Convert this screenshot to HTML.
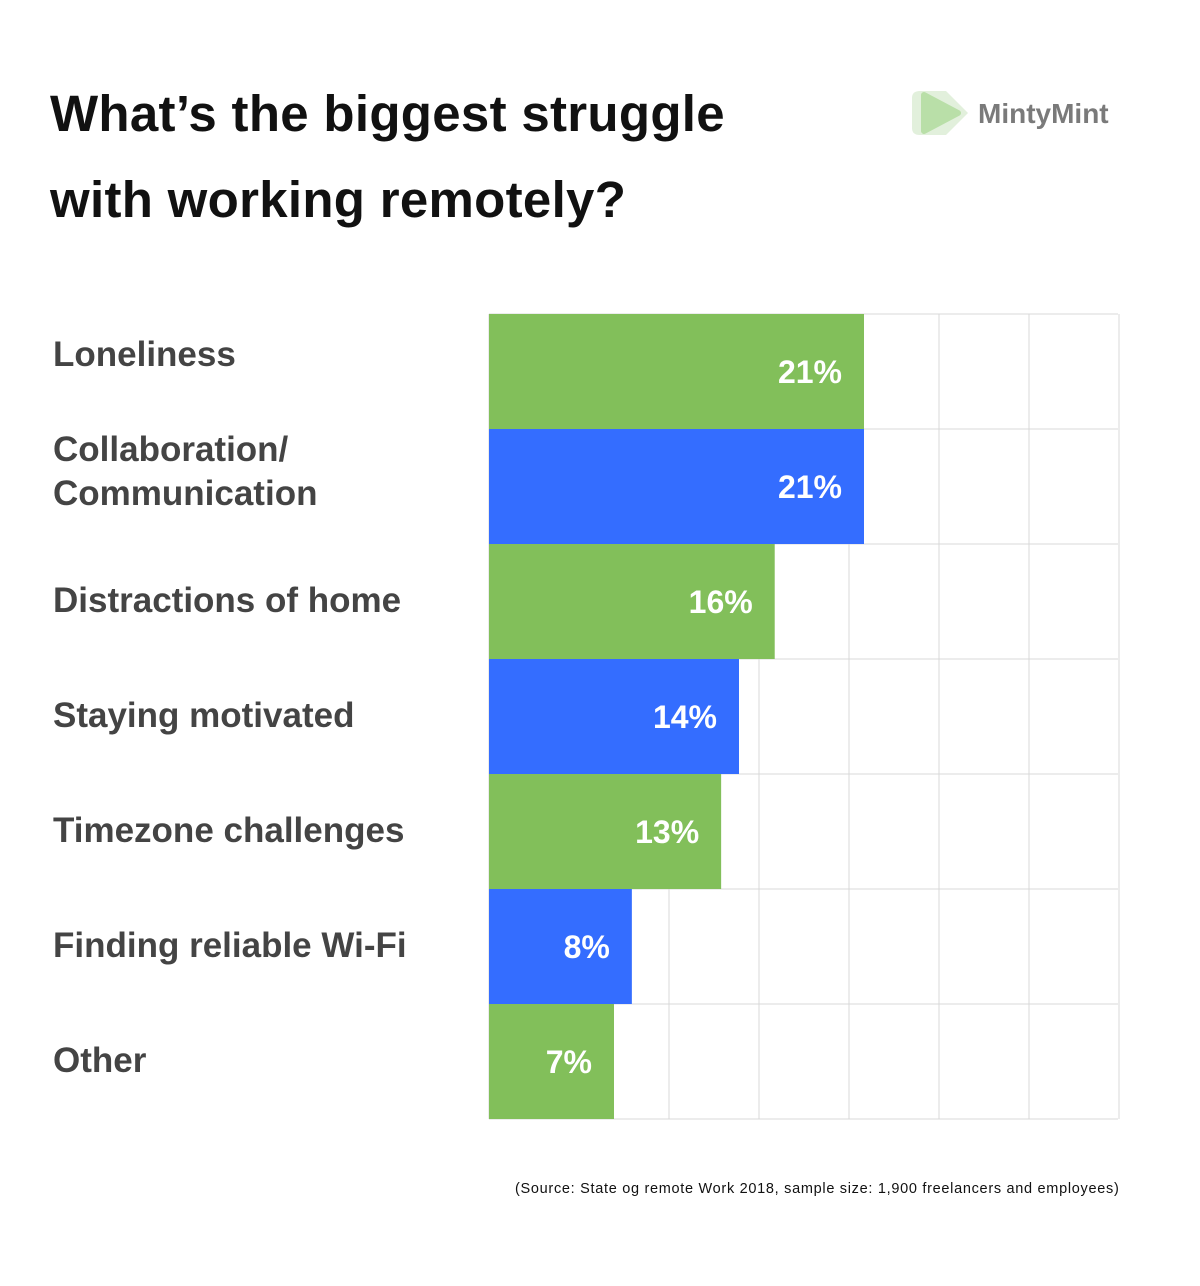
<!DOCTYPE html>
<html><head><meta charset="utf-8"><style>
body{margin:0;background:#fff;width:1200px;height:1286px;overflow:hidden;font-family:"Liberation Sans",sans-serif}
#title{position:absolute;left:50px;top:71px;font-size:51px;font-weight:bold;line-height:86px;color:#111;letter-spacing:0.3px}
#logo{position:absolute;left:912px;top:88px;width:220px;height:50px}
#src{position:absolute;left:515px;top:1181px;font-size:14.5px;color:#111;letter-spacing:0.7px}
</style></head><body>
<div id="title">What’s the biggest struggle<br>with working remotely?</div>
<svg id="logo" viewBox="0 0 220 50">
<path d="M8 3 L34 3 L56 25 L34 47 L8 47 Q0 47 0 40 L0 10 Q0 3 8 3Z" fill="#e2f0dc"/>
<path d="M12 7 L46 25 L12 43Z" fill="#b9dfa8" stroke="#b9dfa8" stroke-width="6" stroke-linejoin="round"/>
<text x="66" y="35" font-size="28" font-weight="bold" fill="#7a7a7a" font-family="Liberation Sans, sans-serif">MintyMint</text>
</svg>
<svg id="chart" width="1200" height="1286" style="position:absolute;left:0;top:0"></svg>
<div id="src">(Source: State og remote Work 2018, sample size: 1,900 freelancers and employees)</div>
<script>
const categories=[["Loneliness"],["Collaboration/","Communication"],["Distractions of home"],["Staying motivated"],["Timezone challenges"],["Finding reliable Wi-Fi"],["Other"]];
const values=[21,21,16,14,13,8,7];
const valueLabels=["21%","21%","16%","14%","13%","8%","7%"];
const colors=["#82bf5a","#346dff","#82bf5a","#346dff","#82bf5a","#346dff","#82bf5a"];
const NS="http://www.w3.org/2000/svg";
const svg=document.getElementById('chart');
const x0=489,x1=1118,y0=314,rowH=115,pxPer=375/21;
const xs=v=>x0+v*pxPer;
const ys=i=>y0+i*rowH;
function mk(t,a){const e=document.createElementNS(NS,t);for(const k in a)e.setAttribute(k,a[k]);svg.appendChild(e);return e;}
for(let i=0;i<=7;i++){const g=mk('line',{x1:x0+i*90,x2:x0+i*90,y1:y0,y2:ys(7),stroke:'#d8d8d8','stroke-width':1});

}
for(let i=0;i<=7;i++){const g=mk('line',{x1:x0,x2:x1,y1:ys(i),y2:ys(i),stroke:'#d8d8d8','stroke-width':1});

}
values.forEach((v,i)=>{
const r=mk('rect',{x:x0,y:ys(i),width:xs(v)-x0,height:rowH,fill:colors[i]});


const t=mk('text',{x:xs(v)-22,y:ys(i)+69,'text-anchor':'end','font-size':32,'font-weight':'bold',fill:'#fff'});
t.textContent=valueLabels[i];


const lines=categories[i];
const l=mk('text',{x:53,'font-size':35,'font-weight':'bold',fill:'#444'});


lines.forEach((s,j)=>{const ts=document.createElementNS(NS,'tspan');ts.setAttribute('x',53);
ts.setAttribute('y',lines.length>1?ys(i)+32+j*44:(i===0?ys(i)+52:ys(i)+68));ts.textContent=s;l.appendChild(ts);});
});
</script>
</body></html>
